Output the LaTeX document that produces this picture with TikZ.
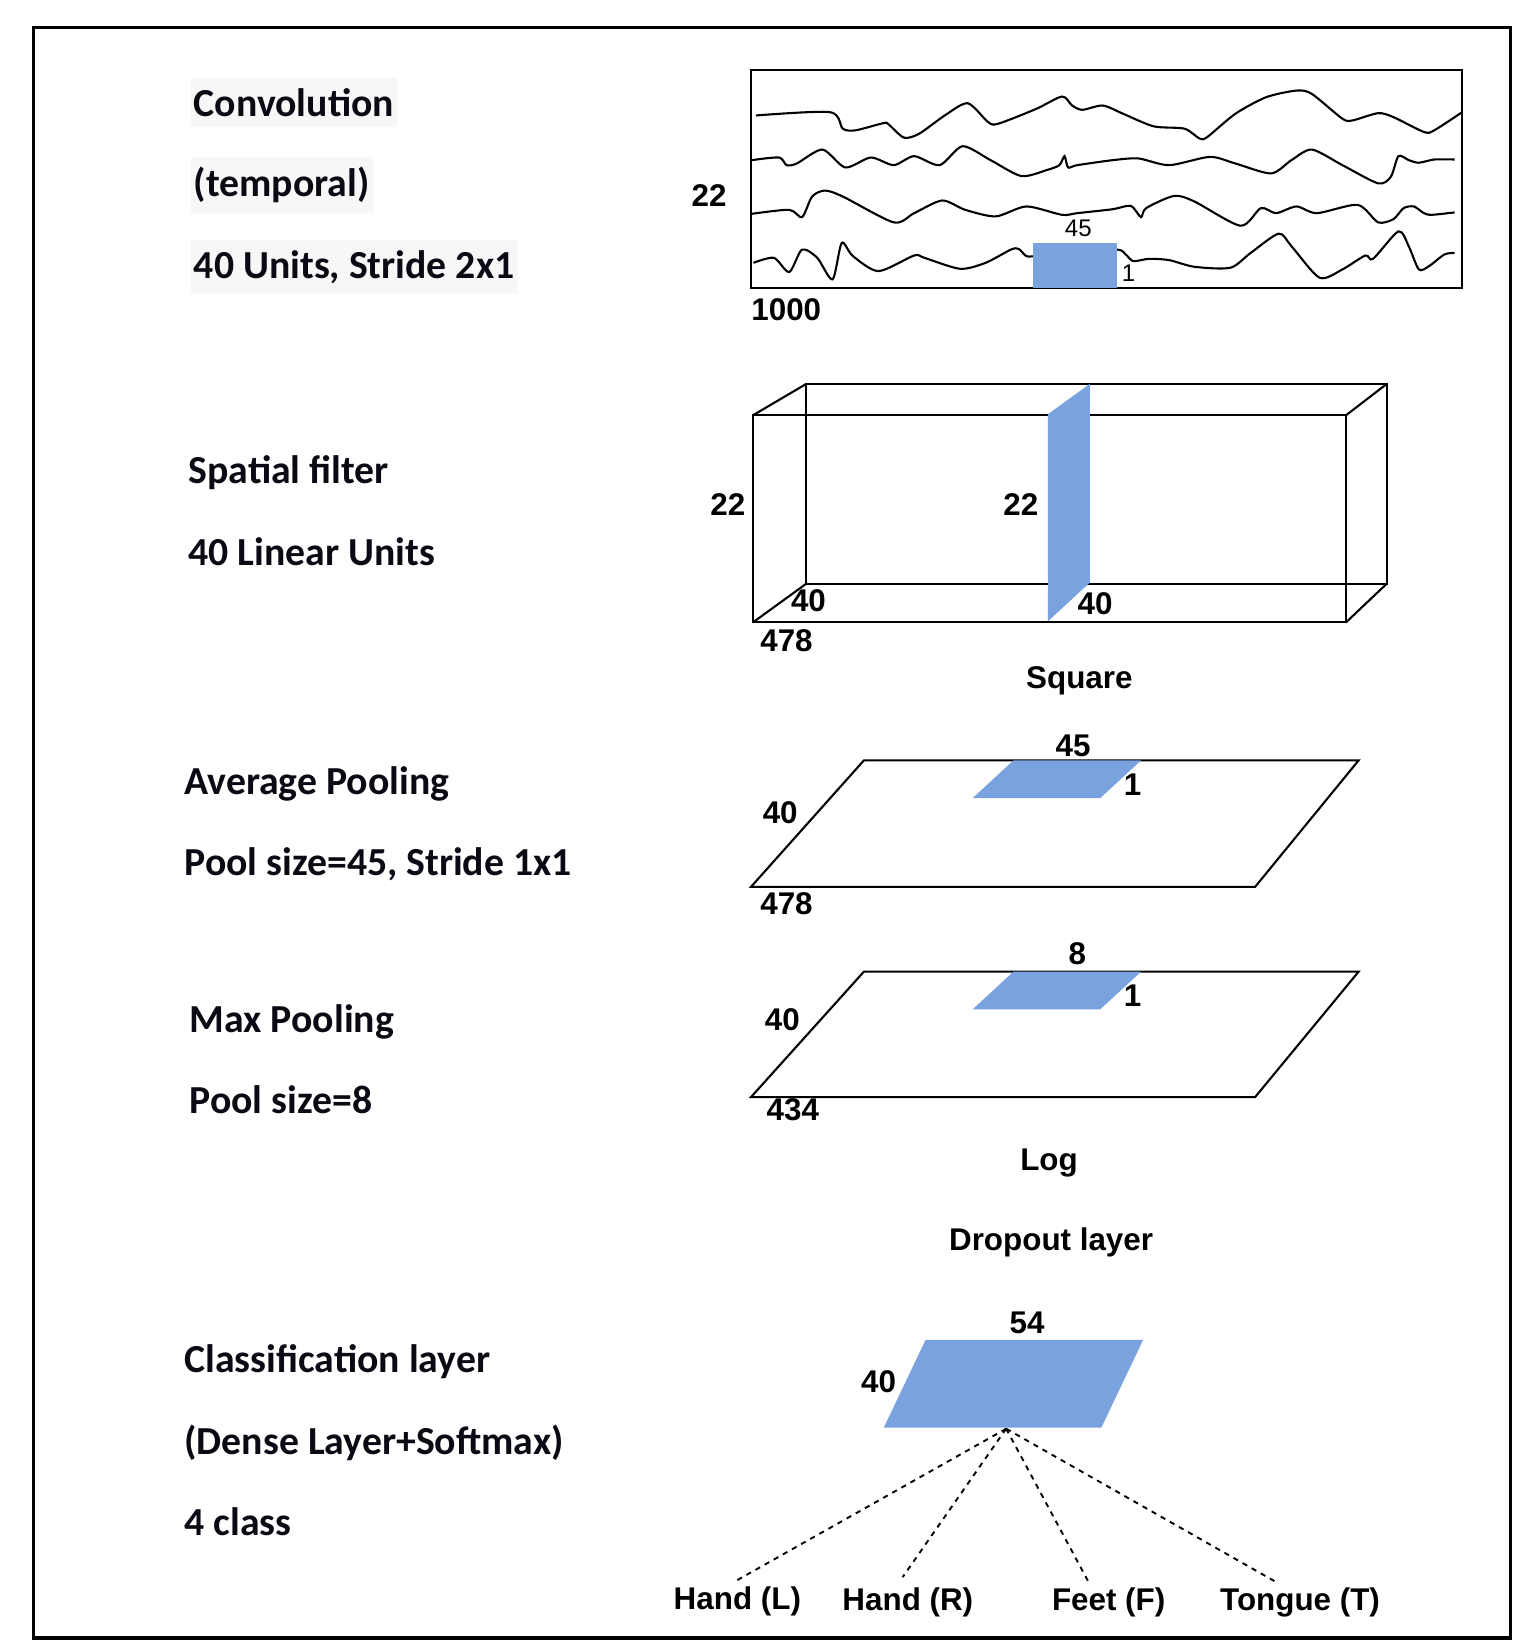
\documentclass[tikz,border=0pt]{standalone}
\usepackage{fontspec}
\setmainfont{Liberation Sans}
\newfontfamily\calib{Carlito}
\definecolor{slab}{RGB}{122,162,222}
\definecolor{ink}{RGB}{10,10,20}
\tikzset{
  lefttxt/.style={anchor=base west, font=\calib\bfseries\fontsize{19}{21}\selectfont, inner sep=0pt, text=ink},
  hilite/.style={fill=black!3, inner xsep=1.5pt, inner ysep=5pt},
  lab/.style={font=\bfseries\fontsize{15}{17}\selectfont, inner sep=0pt},
  smalllab/.style={font=\fontsize{11.5}{13}\selectfont, inner sep=0pt},
  edge/.style={line width=1pt, line join=miter},
  wave/.style={line width=1pt, smooth, tension=0.45},
  link/.style={dashed, dash pattern=on 2.5pt off 2.5pt, line width=0.9pt}
}
\begin{document}
\begin{tikzpicture}[x=0.5pt,y=-0.5pt]
\useasboundingbox (0,0) rectangle (1465,1569);
% outer frame
\draw[line width=1.6pt] (32,26) rectangle (1444,1566);

% ---------- left texts ----------
\node[lefttxt,hilite] (t1) at (182,111) {Convolution};
\node[lefttxt,hilite] (t2) at (182,188) {(temporal)};
\node[lefttxt,hilite] (t3) at (182,266) {40 Units, Stride 2x1};
\node[lefttxt] (t4) at (180,462) {Spatial filter};
\node[lefttxt] (t5) at (180,541) {40 Linear Units};
\node[lefttxt] (t6) at (176,760) {Average Pooling};
\node[lefttxt] (t7) at (176,837) {Pool size=45, Stride 1x1};
\node[lefttxt] (t8) at (181,987) {Max Pooling};
\node[lefttxt] (t9) at (181,1065) {Pool size=8};
\node[lefttxt] (t10) at (176,1312) {Classification layer};
\node[lefttxt] (t11) at (176,1391) {(Dense Layer+Softmax)};
\node[lefttxt] (t12) at (176,1468) {4 class};

% ---------- convolution panel ----------
\draw[edge] (718,67) rectangle (1398,275);
\draw[wave] plot coordinates {(722.9,110.4) (793.6,107.2) (805.8,123.0) (818.0,124.6) (844.8,117.7) (849.6,118.9) (864.3,131.6) (878.9,127.8) (903.3,110.4) (925.2,98.7) (944.7,116.7) (954.4,118.3) (991.0,104.0) (1015.4,92.3) (1025.1,100.9) (1034.9,105.0) (1054.4,100.9) (1073.9,108.8) (1103.1,120.8) (1132.4,123.0) (1147.0,132.5) (1154.3,131.0) (1181.1,108.8) (1210.4,93.0) (1239.6,86.6) (1254.3,89.8) (1283.5,113.5) (1293.3,115.1) (1317.6,108.2) (1332.3,112.0) (1361.5,126.2) (1371.3,124.6) (1398,107.2)};
\draw[wave] plot coordinates {(719,153.1) (744.8,150.6) (752.1,157.9) (761.9,156.3) (786.3,143.0) (808.2,160.1) (832.6,150.6) (854.5,157.9) (874.0,149.3) (898.4,157.9) (920.3,139.8) (947.1,153.1) (976.4,168.3) (1000.8,162.6) (1012.9,157.9) (1017.8,149.3) (1021.2,160.1) (1030.0,157.9) (1064.1,153.1) (1088.5,151.5) (1117.8,157.9) (1156.8,150.0) (1181.1,156.3) (1215.3,165.8) (1234.8,153.1) (1254.3,143.0) (1283.5,157.9) (1317.6,175.3) (1329.8,169.0) (1337.1,149.3) (1346.9,153.1) (1356.6,155.6) (1371.3,152.5) (1390.8,152.5)};
\draw[wave] plot coordinates {(719,204.4) (754.6,200.6) (766.8,207.6) (776.5,187.9) (788.7,182.2) (805.8,187.9) (854.5,212.6) (874.0,203.8) (900.8,191.7) (922.8,200.6) (952.0,206.9) (981.3,197.4) (1015.4,205.4) (1030.0,203.8) (1064.1,200.0) (1081.2,196.8) (1090.9,207.6) (1095.8,199.0) (1122.6,187.3) (1142.1,192.7) (1186.0,215.8) (1205.5,199.0) (1220.1,203.8) (1239.6,197.4) (1259.1,203.8) (1298.1,195.9) (1317.6,212.6) (1332.3,209.5) (1342.0,199.0) (1351.8,197.4) (1361.5,203.8) (1368.8,205.4) (1390.8,203.1)};
\draw[wave] plot coordinates {(720.4,251.3) (739.9,246.5) (754.6,260.1) (766.8,238.6) (781.4,246.5) (796.0,267.1) (804.8,232.3) (815.5,244.9) (839.9,259.2) (874.0,244.3) (883.8,246.5) (917.9,257.0) (942.3,251.3) (966.6,238.6) (974.0,238.0) (981.3,244.9) (989.5,244.9) (1030,242) (1068.0,238.6) (1076.3,243.3) (1083.6,249.7) (1098.3,247.5) (1117.8,248.7) (1142.1,255.1) (1176.3,256.0) (1195.8,241.8) (1222.6,223.4) (1234.8,235.4) (1261.6,265.5) (1283.5,257.6) (1305.4,244.3) (1312.8,247.5) (1337.1,221.2) (1346.9,235.4) (1356.6,257.6) (1366.4,254.4) (1381.0,243.3) (1390.8,241.8)};
\fill[slab] (988,232) rectangle (1068,275);
\node[smalllab] (c45) at (1031,218) {45};
\node[smalllab] (c1) at (1079,261) {1};
\node[lab] (c22) at (678,187) {22};
\node[lab,anchor=west] (c1000) at (718,296) {1000};

% ---------- spatial filter box ----------
\draw[edge] (720,397) rectangle (1287,595);
\draw[edge] (771,367) rectangle (1326,558);
\draw[edge] (720,397) -- (771,367);
\draw[edge] (1287,397) -- (1326,367);
\draw[edge] (1287,595) -- (1326,558);
\draw[edge] (720,595) -- (771,558);
\fill[slab] (1002,396) -- (1042,367) -- (1042,557) -- (1002,594) -- cycle;
\node[lab] (s22a) at (696,482) {22};
\node[lab] (s22b) at (976,482) {22};
\node[lab] (s40a) at (773,574) {40};
\node[lab] (s40b) at (1047,577) {40};
\node[lab] (s478) at (752,613) {478};
\node[lab] (sq) at (1032,651) {Square};

% ---------- average pooling plane ----------
\draw[edge] (718,848) -- (826,727) -- (1299,727) -- (1200,848) -- cycle;
\fill[slab] (930,763) -- (969,727) -- (1091,727) -- (1052,763) -- cycle;
\node[lab] (a45) at (1026,713) {45};
\node[lab] (a1) at (1083,750) {1};
\node[lab] (a40) at (746,777) {40};
\node[lab] (a478) at (752,864) {478};

% ---------- max pooling plane ----------
\draw[edge] (718,1049) -- (826,929) -- (1299,929) -- (1200,1049) -- cycle;
\fill[slab] (930,965) -- (969,929) -- (1091,929) -- (1052,965) -- cycle;
\node[lab] (m8) at (1030,912) {8};
\node[lab] (m1) at (1083,952) {1};
\node[lab] (m40) at (748,975) {40};
\node[lab] (m434) at (758,1061) {434};
\node[lab] (log) at (1003,1112) {Log};
\node[lab] (drop) at (1005,1188) {Dropout layer};

% ---------- classification ----------
\fill[slab] (845,1365) -- (885,1281) -- (1093,1281) -- (1053,1365) -- cycle;
\node[lab] (k54) at (982,1265) {54};
\node[lab] (k40) at (840,1321) {40};
\coordinate (apex) at (962,1366);
\coordinate (e1) at (701,1513);
\coordinate (e2) at (863,1508);
\coordinate (e3) at (1041,1513);
\coordinate (e4) at (1219,1512);
\draw[link] (apex) -- (e1);
\draw[link] (apex) -- (e2);
\draw[link] (apex) -- (e3);
\draw[link] (apex) -- (e4);
\node[lab] (hl) at (705,1531) {Hand (L)};
\node[lab] (hr) at (868,1532) {Hand (R)};
\node[lab] (ft) at (1060,1532) {Feet (F)};
\node[lab] (tg) at (1243,1532) {Tongue (T)};
\end{tikzpicture}
\end{document}
